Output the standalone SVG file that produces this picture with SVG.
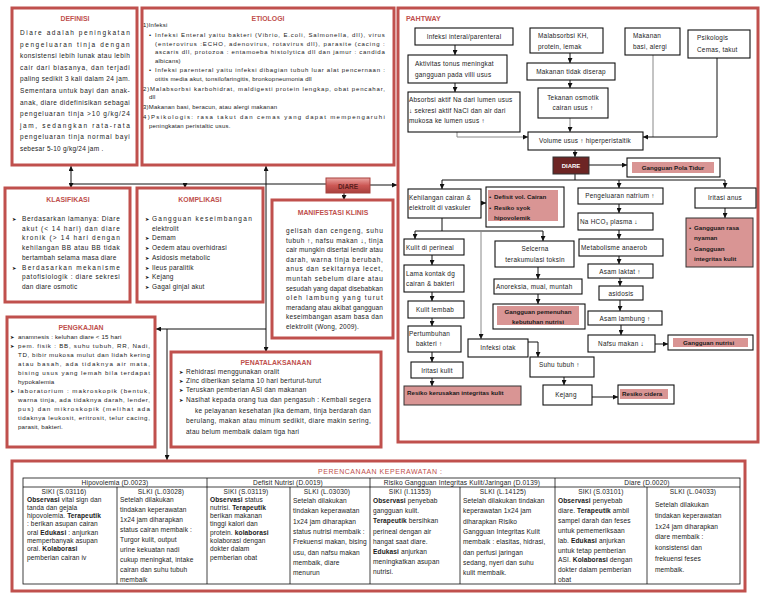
<svg xmlns="http://www.w3.org/2000/svg" width="768" height="594" viewBox="0 0 768 594">
<defs>
<style>
text{font-family:"Liberation Sans",Arial,sans-serif;fill:#1a1a1a}
.rb{fill:#fff;stroke:#c0504d;stroke-width:3}
.ttl{font-size:6.9px;font-weight:bold;fill:#c0504d;text-anchor:middle}
.t{font-size:6.5px;letter-spacing:.25px}
.k{font-size:6.2px;letter-spacing:.15px}
.e{font-size:6px;letter-spacing:.2px}
.bl{font-family:"DejaVu Sans",sans-serif;font-size:5.2px}
.n{fill:#fff;stroke:#111;stroke-width:1.1}
.pk{fill:#d99594}
.pkb{fill:#d99594;stroke:#333;stroke-width:1}
.pt{font-size:6.4px;letter-spacing:.25px}
.ptc{font-size:6.4px;letter-spacing:.25px;text-anchor:middle}
.pb{font-size:6.2px;font-weight:bold}
.pbc{font-size:6.2px;font-weight:bold;text-anchor:middle}
.c{fill:none;stroke:#111;stroke-width:1}
.g{fill:none;stroke:#888;stroke-width:1}
.ca{marker-end:url(#ar)}
.tb{font-size:6.6px;letter-spacing:.1px}
.tbc{font-size:6.6px;letter-spacing:.15px;text-anchor:middle}
.tl{stroke:#111;stroke-width:0.8;fill:none}
</style>
<marker id="ar" viewBox="0 0 6 6" refX="6" refY="3" markerWidth="5" markerHeight="5" markerUnits="userSpaceOnUse" orient="auto"><path d="M0,0L6,3L0,6z" fill="#111"/></marker>
<linearGradient id="dg" x1="0" y1="0" x2="0" y2="1"><stop offset="0" stop-color="#eba5a2"/><stop offset="0.5" stop-color="#cc5855"/><stop offset="1" stop-color="#a8403d"/></linearGradient>
</defs>
<rect width="768" height="594" fill="#fff"/>

<g id="left-connectors">
<path class="c" d="M71,184H326"/>
<path class="c ca" d="M71,184V166"/>
<path class="c ca" d="M71,184V188"/>
<path class="c ca" d="M185,184V188"/>
<path class="c ca" d="M266,184V166"/>
<path class="c ca" d="M266,184V352"/>
<path class="c ca" d="M370,185H397"/>
<path class="c ca" d="M344,193V200"/>
<path class="c" d="M167,329H266"/>
<path class="c ca" d="M167,329H156"/>
<path class="c ca" d="M167,329V460"/>
</g>

<g id="definisi">
<rect class="rb" x="12" y="8" width="125" height="157"/>
<text class="ttl" x="75" y="21">DEFINISI</text>
<text class="t" x="20" y="35" textLength="110" lengthAdjust="spacing">Diare adalah peningkatan</text>
<text class="t" x="20" y="46.6" textLength="110" lengthAdjust="spacing">pengeluaran tinja dengan</text>
<text class="t" x="20" y="58.2" textLength="110" lengthAdjust="spacing">konsistensi lebih lunak atau lebih</text>
<text class="t" x="20" y="69.8" textLength="110" lengthAdjust="spacing">cair dari biasanya, dan terjadi</text>
<text class="t" x="20" y="81.4" textLength="110" lengthAdjust="spacing">paling sedikit 3 kali dalam 24 jam.</text>
<text class="t" x="20" y="93" textLength="110" lengthAdjust="spacing">Sementara untuk bayi dan anak-</text>
<text class="t" x="20" y="104.6" textLength="110" lengthAdjust="spacing">anak, diare didefinisikan sebagai</text>
<text class="t" x="20" y="116.2" textLength="110" lengthAdjust="spacing">pengeluaran tinja &gt;10 g/kg/24</text>
<text class="t" x="20" y="127.8" textLength="110" lengthAdjust="spacing">jam, sedangkan rata-rata</text>
<text class="t" x="20" y="139.4" textLength="110" lengthAdjust="spacing">pengeluaran tinja normal bayi</text>
<text class="t" x="20" y="151">sebesar 5-10 g/kg/24 jam .</text>
</g>

<g id="etiologi">
<rect class="rb" x="142" y="8" width="252" height="157"/>
<text class="ttl" x="268" y="21">ETIOLOGI</text>
<text class="e" x="143" y="27">1)Infeksi</text>
<text class="e" x="149" y="37">•</text>
<text class="e" x="155" y="37" textLength="230" lengthAdjust="spacing">Infeksi Enteral yaitu bakteri (Vibrio, E.coli, Salmonella, dll), virus</text>
<text class="e" x="155" y="45.5" textLength="230" lengthAdjust="spacing">(enterovirus :ECHO, adenovirus, rotavirus dll), parasite (cacing :</text>
<text class="e" x="155" y="54" textLength="230" lengthAdjust="spacing">ascaris dll, protozoa : entamoeba histolytica dll dan jamur : candida</text>
<text class="e" x="155" y="62.5">albicans)</text>
<text class="e" x="149" y="72">•</text>
<text class="e" x="155" y="72" textLength="230" lengthAdjust="spacing">Infeksi parenteral yaitu infeksi dibagian tubuh luar alat pencernaan :</text>
<text class="e" x="155" y="80.5">otitis media akut, tonsilofaringitis, bronkopneumonia dll</text>
<text class="e" x="143" y="90.5" textLength="242" lengthAdjust="spacing">2)Malabsorbsi karbohidrat, maldigesti protein lengkap, obat pencahar,</text>
<text class="e" x="149" y="99">dll</text>
<text class="e" x="143" y="109">3)Makanan basi, beracun, atau alergi makanan</text>
<text class="e" x="143" y="119" textLength="242" lengthAdjust="spacing">4)Psikologis: rasa takut dan cemas yang dapat mempengaruhi</text>
<text class="e" x="149" y="127.5">peningkatan peristaltic usus.</text>
</g>

<g id="klasifikasi">
<rect class="rb" x="5" y="188" width="125" height="114"/>
<text class="ttl" x="68" y="202">KLASIFIKASI</text>
<text class="bl" x="12" y="221">➤</text>
<text class="t" x="22" y="221" textLength="98" lengthAdjust="spacing">Berdasarkan lamanya: Diare</text>
<text class="t" x="22" y="230.7" textLength="98" lengthAdjust="spacing">akut (&lt; 14 hari) dan diare</text>
<text class="t" x="22" y="240.4" textLength="98" lengthAdjust="spacing">kronik (&gt; 14 hari dengan</text>
<text class="t" x="22" y="250.1" textLength="98" lengthAdjust="spacing">kehilangan BB atau BB tidak</text>
<text class="t" x="22" y="259.8">bertambah selama masa diare</text>
<text class="bl" x="12" y="269.5">➤</text>
<text class="t" x="22" y="269.5" textLength="98" lengthAdjust="spacing">Berdasarkan mekanisme</text>
<text class="t" x="22" y="279.2" textLength="98" lengthAdjust="spacing">patofisiologik : diare sekresi</text>
<text class="t" x="22" y="288.9">dan diare osmotic</text>
</g>

<g id="komplikasi">
<rect class="rb" x="137" y="188" width="126" height="114"/>
<text class="ttl" x="200" y="202">KOMPLIKASI</text>
<text class="bl" x="145" y="221">➤</text>
<text class="t" x="152" y="221" textLength="100" lengthAdjust="spacing">Gangguan keseimbangan</text>
<text class="t" x="152" y="230.7">elektrolit</text>
<text class="bl" x="145" y="240.4">➤</text>
<text class="t" x="152" y="240.4">Demam</text>
<text class="bl" x="145" y="250.1">➤</text>
<text class="t" x="152" y="250.1">Oedem atau overhidrasi</text>
<text class="bl" x="145" y="259.8">➤</text>
<text class="t" x="152" y="259.8">Asidosis metabolic</text>
<text class="bl" x="145" y="269.5">➤</text>
<text class="t" x="152" y="269.5">Ileus paralitik</text>
<text class="bl" x="145" y="279.2">➤</text>
<text class="t" x="152" y="279.2">Kejang</text>
<text class="bl" x="145" y="288.9">➤</text>
<text class="t" x="152" y="288.9">Gagal ginjal akut</text>
</g>

<g id="diare-left">
<rect x="326" y="178" width="44" height="15" fill="url(#dg)" stroke="#a8403d" stroke-width="1"/>
<text x="348" y="188.5" font-size="6.5" font-weight="bold" text-anchor="middle" style="fill:#5a1e1d">DIARE</text>
</g>

<g id="manifestasi">
<rect class="rb" x="272" y="200" width="121" height="138"/>
<text class="ttl" x="333" y="215">MANIFESTASI KLINIS</text>
<text class="t" x="286" y="233" textLength="97" lengthAdjust="spacing">gelisah dan cengeng, suhu</text>
<text class="t" x="286" y="242.6" textLength="97" lengthAdjust="spacing">tubuh ↑, nafsu makan ↓, tinja</text>
<text class="t" x="286" y="252.2" textLength="97" lengthAdjust="spacing">cair mungkin disertai lendir atau</text>
<text class="t" x="286" y="261.8" textLength="97" lengthAdjust="spacing">darah, warna tinja berubah,</text>
<text class="t" x="286" y="271.4" textLength="97" lengthAdjust="spacing">anus dan sekitarnya lecet,</text>
<text class="t" x="286" y="281" textLength="97" lengthAdjust="spacing">muntah sebelum diare atau</text>
<text class="t" x="286" y="290.6" textLength="97" lengthAdjust="spacing">sesudah yang dapat disebabkan</text>
<text class="t" x="286" y="300.2" textLength="97" lengthAdjust="spacing">oleh lambung yang turut</text>
<text class="t" x="286" y="309.8" textLength="97" lengthAdjust="spacing">meradang atau akibat gangguan</text>
<text class="t" x="286" y="319.4" textLength="97" lengthAdjust="spacing">keseimbangan asam basa dan</text>
<text class="t" x="286" y="329">elektrolit (Wong, 2009).</text>
</g>

<g id="pengkajian">
<rect class="rb" x="7" y="317" width="148" height="130"/>
<text class="ttl" x="81" y="329.5">PENGKAJIAN</text>
<text class="bl" x="10" y="339">➤</text>
<text class="k" x="18" y="339">anamnesis : keluhan diare &lt; 15 hari</text>
<text class="bl" x="10" y="348">➤</text>
<text class="k" x="18" y="348" textLength="132" lengthAdjust="spacing">pem. fisik : BB, suhu tubuh, RR, Nadi,</text>
<text class="k" x="18" y="357" textLength="132" lengthAdjust="spacing">TD, bibir mukosa mulut dan lidah kering</text>
<text class="k" x="18" y="366" textLength="132" lengthAdjust="spacing">atau basah, ada tidaknya air mata,</text>
<text class="k" x="18" y="375" textLength="132" lengthAdjust="spacing">bising usus yang lemah bila terdapat</text>
<text class="k" x="18" y="384">hypokalemia</text>
<text class="bl" x="10" y="393">➤</text>
<text class="k" x="18" y="393" textLength="132" lengthAdjust="spacing">laboratorium : makroskopik (bentuk,</text>
<text class="k" x="18" y="402" textLength="132" lengthAdjust="spacing">warna tinja, ada tidaknya darah, lender,</text>
<text class="k" x="18" y="411" textLength="132" lengthAdjust="spacing">pus) dan mikroskopik (melihat ada</text>
<text class="k" x="18" y="420" textLength="132" lengthAdjust="spacing">tidaknya leukosit, eritrosit, telur cacing,</text>
<text class="k" x="18" y="429">parasit, bakteri.</text>
</g>

<g id="penatalaksanaan">
<rect class="rb" x="171" y="352" width="210" height="95"/>
<text class="ttl" x="276" y="364.5">PENATALAKSANAAN</text>
<text class="bl" x="179" y="374">➤</text>
<text class="t" x="186" y="374">Rehidrasi menggunakan oralit</text>
<text class="bl" x="179" y="383">➤</text>
<text class="t" x="186" y="383">Zinc diberikan selama 10 hari berturut-turut</text>
<text class="bl" x="179" y="392">➤</text>
<text class="t" x="186" y="392">Teruskan pemberian ASI dan makanan</text>
<text class="bl" x="179" y="402">➤</text>
<text class="t" x="186" y="402" textLength="185" lengthAdjust="spacing">Nasihat kepada orang tua dan pengasuh : Kembali segera</text>
<text class="t" x="195" y="413" textLength="176" lengthAdjust="spacing">ke pelayanan kesehatan jika demam, tinja berdarah dan</text>
<text class="t" x="186" y="423" textLength="185" lengthAdjust="spacing">berulang, makan atau minum sedikit, diare makin sering,</text>
<text class="t" x="186" y="434">atau belum membaik dalam tiga hari</text>
</g>

<g id="pathway-frame">
<rect class="rb" x="398" y="8" width="360" height="434" stroke-width="2.5"/>
<text x="406" y="21" font-size="7.2" font-weight="bold" style="fill:#c0504d">PAHTWAY</text>
</g>

<g id="pathway-connectors">
<path class="c ca" d="M455,45V55"/>
<path class="c ca" d="M455,83V92"/>
<path class="c ca" d="M570,53V63"/>
<path class="c ca" d="M570,80V88"/>
<path class="g ca" d="M570,118V132"/>
<path class="g ca" d="M457,132V137H528"/>
<path class="g" d="M653,55V137"/>
<path class="c ca" d="M717,58V137H643"/>
<path class="c ca" d="M575,150V157"/>
<path class="c ca" d="M589,165H627"/>
<path class="c" d="M575,174V180M442,180H725"/>
<path class="c ca" d="M442,180V189"/>
<path class="c ca" d="M619,180V188"/>
<path class="c ca" d="M725,180V188"/>
<path class="c ca" d="M481,203H486"/>
<path class="c" d="M442,218V231M415,231H543"/>
<path class="c ca" d="M415,231V239"/>
<path class="c ca" d="M543,231V241"/>
<path class="g ca" d="M481,231V339"/>
<path class="c ca" d="M432,255V265"/>
<path class="c ca" d="M432,292V301"/>
<path class="c ca" d="M432,318V326"/>
<path class="c ca" d="M432,352V362"/>
<path class="c ca" d="M432,378V386"/>
<path class="c ca" d="M538,267V279"/>
<path class="c ca" d="M538,294V304"/>
<path class="c ca" d="M528,342H538V357"/>
<path class="c ca" d="M564,377V385"/>
<path class="c ca" d="M592,397H618"/>
<path class="c ca" d="M619,204V213"/>
<path class="c ca" d="M619,230V239"/>
<path class="c ca" d="M619,256V264"/>
<path class="c ca" d="M620,278V286"/>
<path class="c ca" d="M620,300V311"/>
<path class="c ca" d="M621,325V335"/>
<path class="c ca" d="M655,344H668"/>
<path class="c ca" d="M725,208V218"/>
</g>

<g id="n-infeksi"><rect class="n" x="415" y="28" width="98" height="17"/><text class="ptc" x="464" y="39">Infeksi interal/parenteral</text></g>
<g id="n-malabsorbsi"><rect class="n" x="530" y="28" width="73" height="25"/><text class="pt" x="538" y="38">Malabsorbsi KH,</text><text class="pt" x="538" y="49">protein, lemak</text></g>
<g id="n-makanan"><rect class="n" x="625" y="28" width="55" height="27"/><text class="pt" x="633" y="38">Makanan</text><text class="pt" x="633" y="49">basi, alergi</text></g>
<g id="n-psikologis"><rect class="n" x="688" y="30" width="62" height="28"/><text class="pt" x="697" y="40">Psikologis</text><text class="pt" x="697" y="52">Cemas, takut</text></g>
<g id="n-aktivitas"><rect class="n" x="408" y="55" width="99" height="28"/><text class="pt" x="415" y="66">Aktivitas tonus meningkat</text><text class="pt" x="415" y="77">gangguan pada villi usus</text></g>
<g id="n-tidakserap"><rect class="n" x="527" y="63" width="88" height="17"/><text class="ptc" x="571" y="74">Makanan tidak diserap</text></g>
<g id="n-absorbsi"><rect class="n" x="408" y="92" width="112" height="40"/><text class="pt" x="409" y="102">Absorbsi aktif Na dari lumen usus</text><text class="pt" x="409" y="112.5">↓ sekresi aktif NaCl dan air dari</text><text class="pt" x="409" y="123">mukosa ke lumen usus ↑</text></g>
<g id="n-tekanan"><rect class="n" x="538" y="88" width="70" height="30"/><text class="ptc" x="573" y="100">Tekanan osmotik</text><text class="ptc" x="573" y="110">cairan usus ↑</text></g>
<g id="n-volume"><rect class="n" x="528" y="132" width="115" height="18"/><text class="ptc" x="585" y="143">Volume usus ↑ hiperperistaltik</text></g>
<g id="n-diare"><rect x="553" y="157" width="36" height="17" fill="#6d2524" stroke="#333" stroke-width="1"/><text x="571" y="168" font-size="6" font-weight="bold" text-anchor="middle" style="fill:#fff">DIARE</text></g>
<g id="n-polatidur"><rect class="n" x="627" y="158" width="93" height="19"/><rect class="pk" x="632" y="162" width="82" height="11"/><text class="pbc" x="673" y="169.8">Gangguan Pola Tidur</text></g>
<g id="n-kehilangan"><rect class="n" x="408" y="189" width="73" height="29"/><text class="pt" x="409" y="200">Kehilangan cairan &amp;</text><text class="pt" x="409" y="210">elektrolit di vaskuler</text></g>
<g id="n-defisit"><rect class="n" x="486" y="187" width="78" height="40"/><rect class="pk" x="488" y="190" width="70" height="31"/><text class="pb" x="489" y="199">•</text><text class="pb" x="494" y="199">Defisit vol. Cairan</text><text class="pb" x="489" y="209.5">•</text><text class="pb" x="494" y="209.5">Resiko syok</text><text class="pb" x="494" y="220">hipovolemik</text></g>
<g id="n-pengeluaran"><rect class="n" x="578" y="188" width="85" height="16"/><text class="ptc" x="620" y="198">Pengeluaran natrium ↑</text></g>
<g id="n-nahco"><rect class="n" x="578" y="213" width="75" height="17"/><text class="pt" x="580" y="223.5">Na HCO<tspan font-size="4" dy="1.5">3</tspan><tspan dy="-1.5"> plasma ↓</tspan></text></g>
<g id="n-metabolisme"><rect class="n" x="579" y="239" width="84" height="17"/><text class="pt" x="581" y="249.5">Metabolisme anaerob</text></g>
<g id="n-laktat"><rect class="n" x="588" y="264" width="65" height="14"/><text class="ptc" x="620" y="273.5">Asam laktat ↑</text></g>
<g id="n-asidosis"><rect class="n" x="599" y="286" width="44" height="14"/><text class="ptc" x="621" y="295.5">asidosis</text></g>
<g id="n-lambung"><rect class="n" x="588" y="311" width="74" height="14"/><text class="ptc" x="625" y="320.5">Asam lambung ↑</text></g>
<g id="n-nafsu"><rect class="n" x="588" y="335" width="67" height="17"/><text class="ptc" x="621" y="345.5">Nafsu makan ↓</text></g>
<g id="n-gnutrisi"><rect class="n" x="668" y="335" width="85" height="15"/><rect class="pk" x="673" y="338" width="75" height="9"/><text class="pb" x="683" y="344.8">Gangguan nutrisi</text></g>
<g id="n-iritasianus"><rect class="n" x="695" y="188" width="61" height="20"/><text class="ptc" x="725" y="200">Iritasi anus</text></g>
<g id="n-grasa"><rect class="pkb" x="686" y="218" width="67" height="49"/><text class="pb" x="689" y="230">•</text><text class="pb" x="694" y="230">Gangguan rasa</text><text class="pb" x="694" y="239.5">nyaman</text><text class="pb" x="689" y="251">•</text><text class="pb" x="694" y="251">Gangguan</text><text class="pb" x="694" y="261">integritas kulit</text></g>
<g id="n-kulitperineal"><rect class="n" x="404" y="239" width="60" height="16"/><text class="pt" x="406" y="249.5">Kulit di perineal</text></g>
<g id="n-lamakontak"><rect class="n" x="404" y="265" width="60" height="27"/><text class="pt" x="406" y="276">Lama kontak dg</text><text class="pt" x="406" y="286">cairan &amp; bakteri</text></g>
<g id="n-kulitlembab"><rect class="n" x="408" y="301" width="56" height="17"/><text class="ptc" x="435" y="311.5">Kulit lembab</text></g>
<g id="n-pertumbuhan"><rect class="n" x="408" y="326" width="53" height="26"/><text class="pt" x="409" y="336">Pertumbuhan</text><text class="pt" x="416" y="346">bakteri ↑</text></g>
<g id="n-iritasikulit"><rect class="n" x="411" y="362" width="52" height="16"/><text class="ptc" x="437" y="372.5">Iritasi kulit</text></g>
<g id="n-resikokulit"><rect class="pkb" x="404" y="386" width="117" height="19"/><text class="pb" x="407" y="395">Resiko kerusakan integritas kulit</text></g>
<g id="n-selcerna"><rect class="n" x="495" y="241" width="79" height="26"/><text class="ptc" x="535" y="251">Selcerna</text><text class="ptc" x="535" y="262">terakumulasi toksin</text></g>
<g id="n-anoreksia"><rect class="n" x="494" y="279" width="88" height="15"/><text class="pt" x="496" y="289">Anoreksia, mual, muntah</text></g>
<g id="n-gpemenuhan"><rect class="n" x="493" y="304" width="92" height="25"/><rect class="pk" x="497" y="306" width="82" height="19"/><text class="pbc" x="538" y="314">Gangguan pemenuhan</text><text class="pbc" x="538" y="323.5">kebutuhan nutrisi</text></g>
<g id="n-infeksiotak"><rect class="n" x="468" y="339" width="60" height="18"/><text class="ptc" x="498" y="350">Infeksi otak</text></g>
<g id="n-suhu"><rect class="n" x="530" y="357" width="64" height="20"/><text class="pt" x="539" y="367">Suhu tubuh ↑</text></g>
<g id="n-kejang"><rect class="n" x="543" y="385" width="49" height="20"/><text class="ptc" x="566" y="397">Kejang</text></g>
<g id="n-cidera"><rect class="n" x="618" y="385" width="56" height="19"/><rect class="pk" x="620" y="389" width="48" height="10"/><text class="pb" x="622" y="396">Resiko cidera</text></g>

<g id="perencanaan">
<rect class="rb" x="12" y="461" width="733" height="130" stroke-width="2.5"/>
<text x="318" y="474" font-size="7" textLength="124" lengthAdjust="spacing" style="fill:#c0504d">PERENCANAAN KEPERAWATAN :</text>
<rect class="tl" x="23" y="478" width="717" height="106"/>
<path class="tl" d="M23,487H740M207,478V584M370,478V584M555,478V584M117,487V584M290,487V584M460,487V584M647,487V584"/>
<text class="tbc" x="115" y="485">Hipovolemia  (D.0023)</text>
<text class="tbc" x="288" y="485">Defisit Nutrisi (D.0019)</text>
<text class="tbc" x="462" y="485">Risiko Gangguan Integritas Kulit/Jaringan (D.0139)</text>
<text class="tbc" x="647" y="485">Diare  (D.0020)</text>
<text class="tbc" x="64" y="494">SIKI (S.03116)</text>
<text class="tbc" x="161" y="494">SLKI (L.03028)</text>
<text class="tbc" x="246" y="494">SIKI (S.03119)</text>
<text class="tbc" x="327" y="494">SLKI (L.03030)</text>
<text class="tbc" x="410" y="494">SIKI (I.11353)</text>
<text class="tbc" x="503" y="494">SLKI (L.14125)</text>
<text class="tbc" x="601" y="494">SIKI (S.03101)</text>
<text class="tbc" x="693" y="494">SLKI (L.04033)</text>

<text class="tb" x="27" y="501.5"><tspan font-weight="bold">Observasi</tspan> vital sign dan</text>
<text class="tb" x="27" y="509.8">tanda dan gejala</text>
<text class="tb" x="27" y="518.1">hipovolemia. <tspan font-weight="bold">Terapeutik</tspan></text>
<text class="tb" x="27" y="526.4">: berikan asupan cairan</text>
<text class="tb" x="27" y="534.7">oral <tspan font-weight="bold">Edukasi</tspan> : anjurkan</text>
<text class="tb" x="27" y="543">memperbanyak asupan</text>
<text class="tb" x="27" y="551.3">oral. <tspan font-weight="bold">Kolaborasi</tspan></text>
<text class="tb" x="27" y="559.6">pemberian cairan iv</text>

<text class="tb" x="120" y="502">Setelah dilakukan</text>
<text class="tb" x="120" y="512">tindakan keperawatan</text>
<text class="tb" x="120" y="522">1x24 jam diharapkan</text>
<text class="tb" x="120" y="532">status cairan membaik :</text>
<text class="tb" x="120" y="542">Turgor kulit, output</text>
<text class="tb" x="120" y="552">urine kekuatan nadi</text>
<text class="tb" x="120" y="562">cukup meningkat, intake</text>
<text class="tb" x="120" y="572">cairan dan suhu tubuh</text>
<text class="tb" x="120" y="582">membaik</text>

<text class="tb" x="210" y="501.5"><tspan font-weight="bold">Observasi</tspan> status</text>
<text class="tb" x="210" y="509.8">nutrisi. <tspan font-weight="bold">Terapeutik</tspan></text>
<text class="tb" x="210" y="518.1">berikan makanan</text>
<text class="tb" x="210" y="526.4">tinggi kalori dan</text>
<text class="tb" x="210" y="534.7">protein. <tspan font-weight="bold">kolaborasi</tspan></text>
<text class="tb" x="210" y="543">kolaborasi dengan</text>
<text class="tb" x="210" y="551.3">dokter dalam</text>
<text class="tb" x="210" y="559.6">pemberian obat</text>

<text class="tb" x="293" y="503">Setelah dilakukan</text>
<text class="tb" x="293" y="513.3">tindakan keperawatan</text>
<text class="tb" x="293" y="523.6">1x24 jam diharapkan</text>
<text class="tb" x="293" y="533.9">status nutrisi membaik :</text>
<text class="tb" x="293" y="544.2">Frekuensi makan, bising</text>
<text class="tb" x="293" y="554.5">usu, dan nafsu makan</text>
<text class="tb" x="293" y="564.8">membaik, diare</text>
<text class="tb" x="293" y="575.1">menurun</text>

<text class="tb" x="373" y="503"><tspan font-weight="bold">Observasi</tspan> penyebab</text>
<text class="tb" x="373" y="513.2">gangguan kulit.</text>
<text class="tb" x="373" y="523.4"><tspan font-weight="bold">Terapeutik</tspan> bersihkan</text>
<text class="tb" x="373" y="533.6">perineal dengan air</text>
<text class="tb" x="373" y="543.8">hangat saat diare.</text>
<text class="tb" x="373" y="554"><tspan font-weight="bold">Edukasi</tspan> anjurkan</text>
<text class="tb" x="373" y="564.2">meningkatkan asupan</text>
<text class="tb" x="373" y="574.4">nutrisi.</text>

<text class="tb" x="463" y="503">Setelah dilakukan tindakan</text>
<text class="tb" x="463" y="513.3">keperawatan 1x24 jam</text>
<text class="tb" x="463" y="523.6">diharapkan  Risiko</text>
<text class="tb" x="463" y="533.9">Gangguan Integritas Kulit</text>
<text class="tb" x="463" y="544.2">membaik : elasitas, hidrasi,</text>
<text class="tb" x="463" y="554.5">dan perfusi jaringan</text>
<text class="tb" x="463" y="564.8">sedang, nyeri dan suhu</text>
<text class="tb" x="463" y="575.1">kulit membaik.</text>

<text class="tb" x="558" y="503"><tspan font-weight="bold">Observasi</tspan> penyebab</text>
<text class="tb" x="558" y="512.9">diare. <tspan font-weight="bold">Terapeutik</tspan> ambil</text>
<text class="tb" x="558" y="522.8">sampel darah dan feses</text>
<text class="tb" x="558" y="532.7">untuk pememeriksaan</text>
<text class="tb" x="558" y="542.6">lab.  <tspan font-weight="bold">Edukasi</tspan> anjurkan</text>
<text class="tb" x="558" y="552.5">untuk tetap pemberian</text>
<text class="tb" x="558" y="562.4">ASI. <tspan font-weight="bold">Kolaborasi</tspan> dengan</text>
<text class="tb" x="558" y="572.3">dokter dalam pemberian</text>
<text class="tb" x="558" y="582.2">obat</text>

<text class="tb" x="655" y="507">Setelah dilakukan</text>
<text class="tb" x="655" y="517.8">tindakan keperawatan</text>
<text class="tb" x="655" y="528.6">1x24 jam diharapkan</text>
<text class="tb" x="655" y="539.4">diare membaik :</text>
<text class="tb" x="655" y="550.2">konsistensi dan</text>
<text class="tb" x="655" y="561">frekuensi feses</text>
<text class="tb" x="655" y="571.8">membaik.</text>
</g>
</svg>
